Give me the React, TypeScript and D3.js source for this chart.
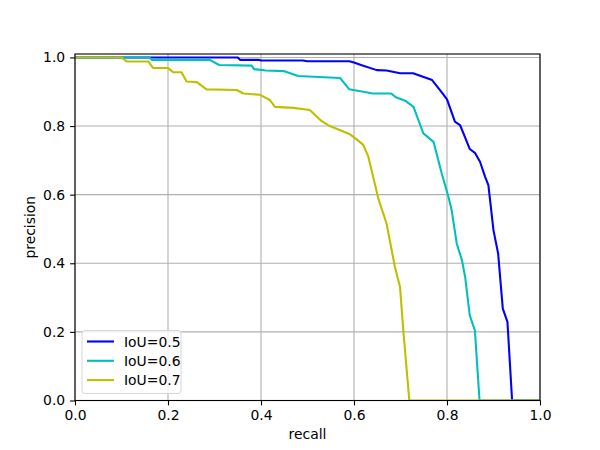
import React, { useEffect, useRef } from 'react';
import * as d3 from 'd3';

// [recall, precision] pairs
const iou05: [number, number][] = [
  [0, 1], [0.35, 1], [0.355, 0.993], [0.395, 0.993], [0.4, 0.991], [0.49, 0.991],
  [0.5, 0.989], [0.59, 0.989], [0.6, 0.985], [0.615, 0.978], [0.649, 0.963],
  [0.67, 0.962], [0.699, 0.954], [0.727, 0.954], [0.768, 0.934], [0.79, 0.896],
  [0.8, 0.878], [0.817, 0.813], [0.828, 0.803], [0.838, 0.77], [0.849, 0.733],
  [0.86, 0.722], [0.871, 0.696], [0.882, 0.652], [0.889, 0.628], [0.9, 0.496],
  [0.91, 0.428], [0.92, 0.268], [0.93, 0.229], [0.94, 0], [1.0, 0]
];

const iou06: [number, number][] = [
  [0, 1], [0.16, 1], [0.165, 0.993], [0.29, 0.993], [0.31, 0.978], [0.38, 0.976],
  [0.385, 0.966], [0.41, 0.962], [0.45, 0.96], [0.48, 0.946], [0.57, 0.94],
  [0.59, 0.907], [0.62, 0.9], [0.64, 0.895], [0.68, 0.895], [0.69, 0.884],
  [0.71, 0.874], [0.728, 0.856], [0.749, 0.779], [0.771, 0.754], [0.789, 0.66],
  [0.803, 0.594], [0.81, 0.555], [0.821, 0.457], [0.832, 0.41], [0.839, 0.36],
  [0.849, 0.248], [0.86, 0.204], [0.87, 0], [1.0, 0]
];

const iou07: [number, number][] = [
  [0, 1], [0.1, 1], [0.111, 0.988], [0.158, 0.988], [0.168, 0.969], [0.2, 0.969],
  [0.211, 0.957], [0.229, 0.957], [0.24, 0.93], [0.262, 0.928], [0.283, 0.907],
  [0.348, 0.905], [0.362, 0.895], [0.398, 0.891], [0.419, 0.876], [0.43, 0.856],
  [0.47, 0.853], [0.505, 0.847], [0.53, 0.815], [0.548, 0.8], [0.59, 0.777],
  [0.605, 0.762], [0.62, 0.745], [0.631, 0.71], [0.645, 0.63], [0.652, 0.59],
  [0.67, 0.516], [0.688, 0.389], [0.699, 0.331], [0.706, 0.204], [0.719, 0], [1.0, 0]
];

const seriesLabels = ['IoU=0.5', 'IoU=0.6', 'IoU=0.7'];
const seriesColors = ['#0000ff', '#00bfbf', '#bfbf00'];
const tickValues = [0, 0.2, 0.4, 0.6, 0.8, 1.0];

export default function App() {
  const svgRef = useRef<SVGSVGElement | null>(null);

  useEffect(() => {
    document.body.style.margin = '0';
    if (!svgRef.current) return;
    const svg = d3.select(svgRef.current);
    svg.selectAll('*').remove();

    const width = 600;
    const height = 450;
    const margin = { top: 54, right: 60, bottom: 49.5, left: 75 };
    const innerWidth = width - margin.left - margin.right;
    const innerHeight = height - margin.top - margin.bottom;
    const font = 'DejaVu Sans, sans-serif';

    const x = d3.scaleLinear().domain([0, 1]).range([0, innerWidth]);
    const y = d3.scaleLinear().domain([0, 1.01]).range([innerHeight, 0]);

    svg.append('rect').attr('width', width).attr('height', height).attr('fill', '#fff');

    const g = svg.append('g').attr('transform', `translate(${margin.left},${margin.top})`);

    svg.append('defs').append('clipPath').attr('id', 'plot-clip')
      .append('rect').attr('width', innerWidth).attr('height', innerHeight);

    // grid
    g.selectAll('.gx').data(tickValues).enter().append('line')
      .attr('x1', d => x(d)).attr('x2', d => x(d))
      .attr('y1', 0).attr('y2', innerHeight)
      .attr('stroke', '#b0b0b0').attr('stroke-width', 1.1);
    g.selectAll('.gy').data(tickValues).enter().append('line')
      .attr('y1', d => y(d)).attr('y2', d => y(d))
      .attr('x1', 0).attr('x2', innerWidth)
      .attr('stroke', '#b0b0b0').attr('stroke-width', 1.1);

    // curves
    const line = d3.line<[number, number]>().x(d => x(d[0])).y(d => y(d[1]));
    const plot = g.append('g').attr('clip-path', 'url(#plot-clip)');
    [iou05, iou06, iou07].forEach((data, i) => {
      plot.append('path').datum(data)
        .attr('fill', 'none')
        .attr('stroke', seriesColors[i])
        .attr('stroke-width', 2.1)
        .attr('stroke-linejoin', 'round')
        .attr('d', line);
    });

    // frame
    g.append('rect').attr('width', innerWidth).attr('height', innerHeight)
      .attr('fill', 'none').attr('stroke', '#000').attr('stroke-width', 1.1);

    // axes
    const xAxis = g.append('g').attr('transform', `translate(0,${innerHeight})`)
      .call(d3.axisBottom(x).tickValues(tickValues).tickFormat(d3.format('.1f')).tickSize(4.9).tickPadding(4.9));
    const yAxis = g.append('g')
      .call(d3.axisLeft(y).tickValues(tickValues).tickFormat(d3.format('.1f')).tickSize(4.9).tickPadding(4.9));
    [xAxis, yAxis].forEach(a => {
      a.select('.domain').remove();
      a.selectAll('line').attr('stroke', '#000').attr('stroke-width', 1.1);
      a.selectAll('text').attr('font-family', font).attr('font-size', '13.9px').attr('fill', '#000');
    });

    g.append('text')
      .attr('x', innerWidth / 2).attr('y', innerHeight + 38)
      .attr('text-anchor', 'middle').attr('font-family', font).attr('font-size', '13.9px')
      .text('recall');
    g.append('text')
      .attr('transform', 'rotate(-90)')
      .attr('x', -innerHeight / 2).attr('y', -40)
      .attr('text-anchor', 'middle').attr('font-family', font).attr('font-size', '13.9px')
      .text('precision');

    // legend
    const legend = g.append('g').attr('transform', `translate(7,${innerHeight - 70})`);
    legend.append('rect')
      .attr('width', 99).attr('height', 63).attr('rx', 3)
      .attr('fill', '#fff').attr('fill-opacity', 0.8)
      .attr('stroke', '#d6d6d6').attr('stroke-width', 1);
    seriesLabels.forEach((label, i) => {
      const row = legend.append('g').attr('transform', `translate(0,${11 + i * 19.3})`);
      row.append('line').attr('x1', 5).attr('x2', 32).attr('y1', 0).attr('y2', 0)
        .attr('stroke', seriesColors[i]).attr('stroke-width', 2.1);
      row.append('text').attr('x', 42).attr('y', 5)
        .attr('font-family', font).attr('font-size', '13.9px').text(label);
    });
  }, []);

  return <svg ref={svgRef} width={600} height={450} style={{ display: 'block' }} />;
}
